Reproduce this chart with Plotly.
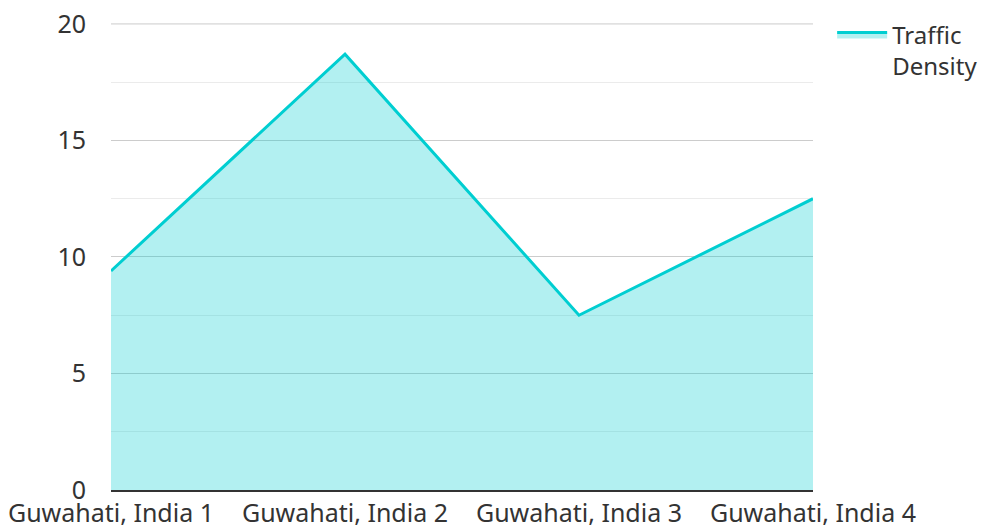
import plotly.graph_objects as go

categories = ["Guwahati, India 1", "Guwahati, India 2", "Guwahati, India 3", "Guwahati, India 4"]
traffic_density = [9.4, 18.7, 7.5, 12.5]
series_name = "Traffic<br>Density"
y_ticks = [0, 5, 10, 15, 20]
y_minor_ticks = [2.5, 7.5, 12.5, 17.5]

fig = go.Figure()
fig.add_trace(go.Scatter(
    x=categories, y=traffic_density, name=series_name, mode="lines",
    line=dict(color="#00CED1", width=3),
    fill="tozeroy", fillcolor="rgba(0,206,209,0.3)",
))

# top gridline (Plotly omits the gridline at the very edge of the range)
fig.add_shape(type="line", xref="paper", yref="y", x0=0, x1=1,
              y0=y_ticks[-1], y1=y_ticks[-1], line=dict(color="#cccccc", width=1),
              layer="below")

fig.update_layout(
    width=987, height=531,
    margin=dict(l=103, r=182, t=15, b=49),
    paper_bgcolor="white", plot_bgcolor="white",
    font=dict(family="Noto Sans", size=25, color="#333333"),
    showlegend=True,
    legend=dict(x=0.835, y=0.9915, xref="container", yref="container",
                xanchor="left", yanchor="top", font=dict(size=24),
                bgcolor="rgba(0,0,0,0)", itemwidth=50, valign="top"),
    xaxis=dict(type="category", range=[0, 3], showgrid=False, showline=True,
               linecolor="#333333", linewidth=2, ticks="", zeroline=False,
               automargin=False, ticklabelstandoff=0),
    yaxis=dict(range=[0, 20.04], tickvals=y_ticks, showgrid=True,
               gridcolor="#cccccc", gridwidth=1,
               zeroline=False, showline=False, ticks="", ticklabelstandoff=24,
               automargin=False, ticklabeloverflow="allow",
               minor=dict(tickvals=y_minor_ticks, showgrid=True,
                          gridcolor="#ebebeb", gridwidth=1)),
)

fig.write_html("out.html")
